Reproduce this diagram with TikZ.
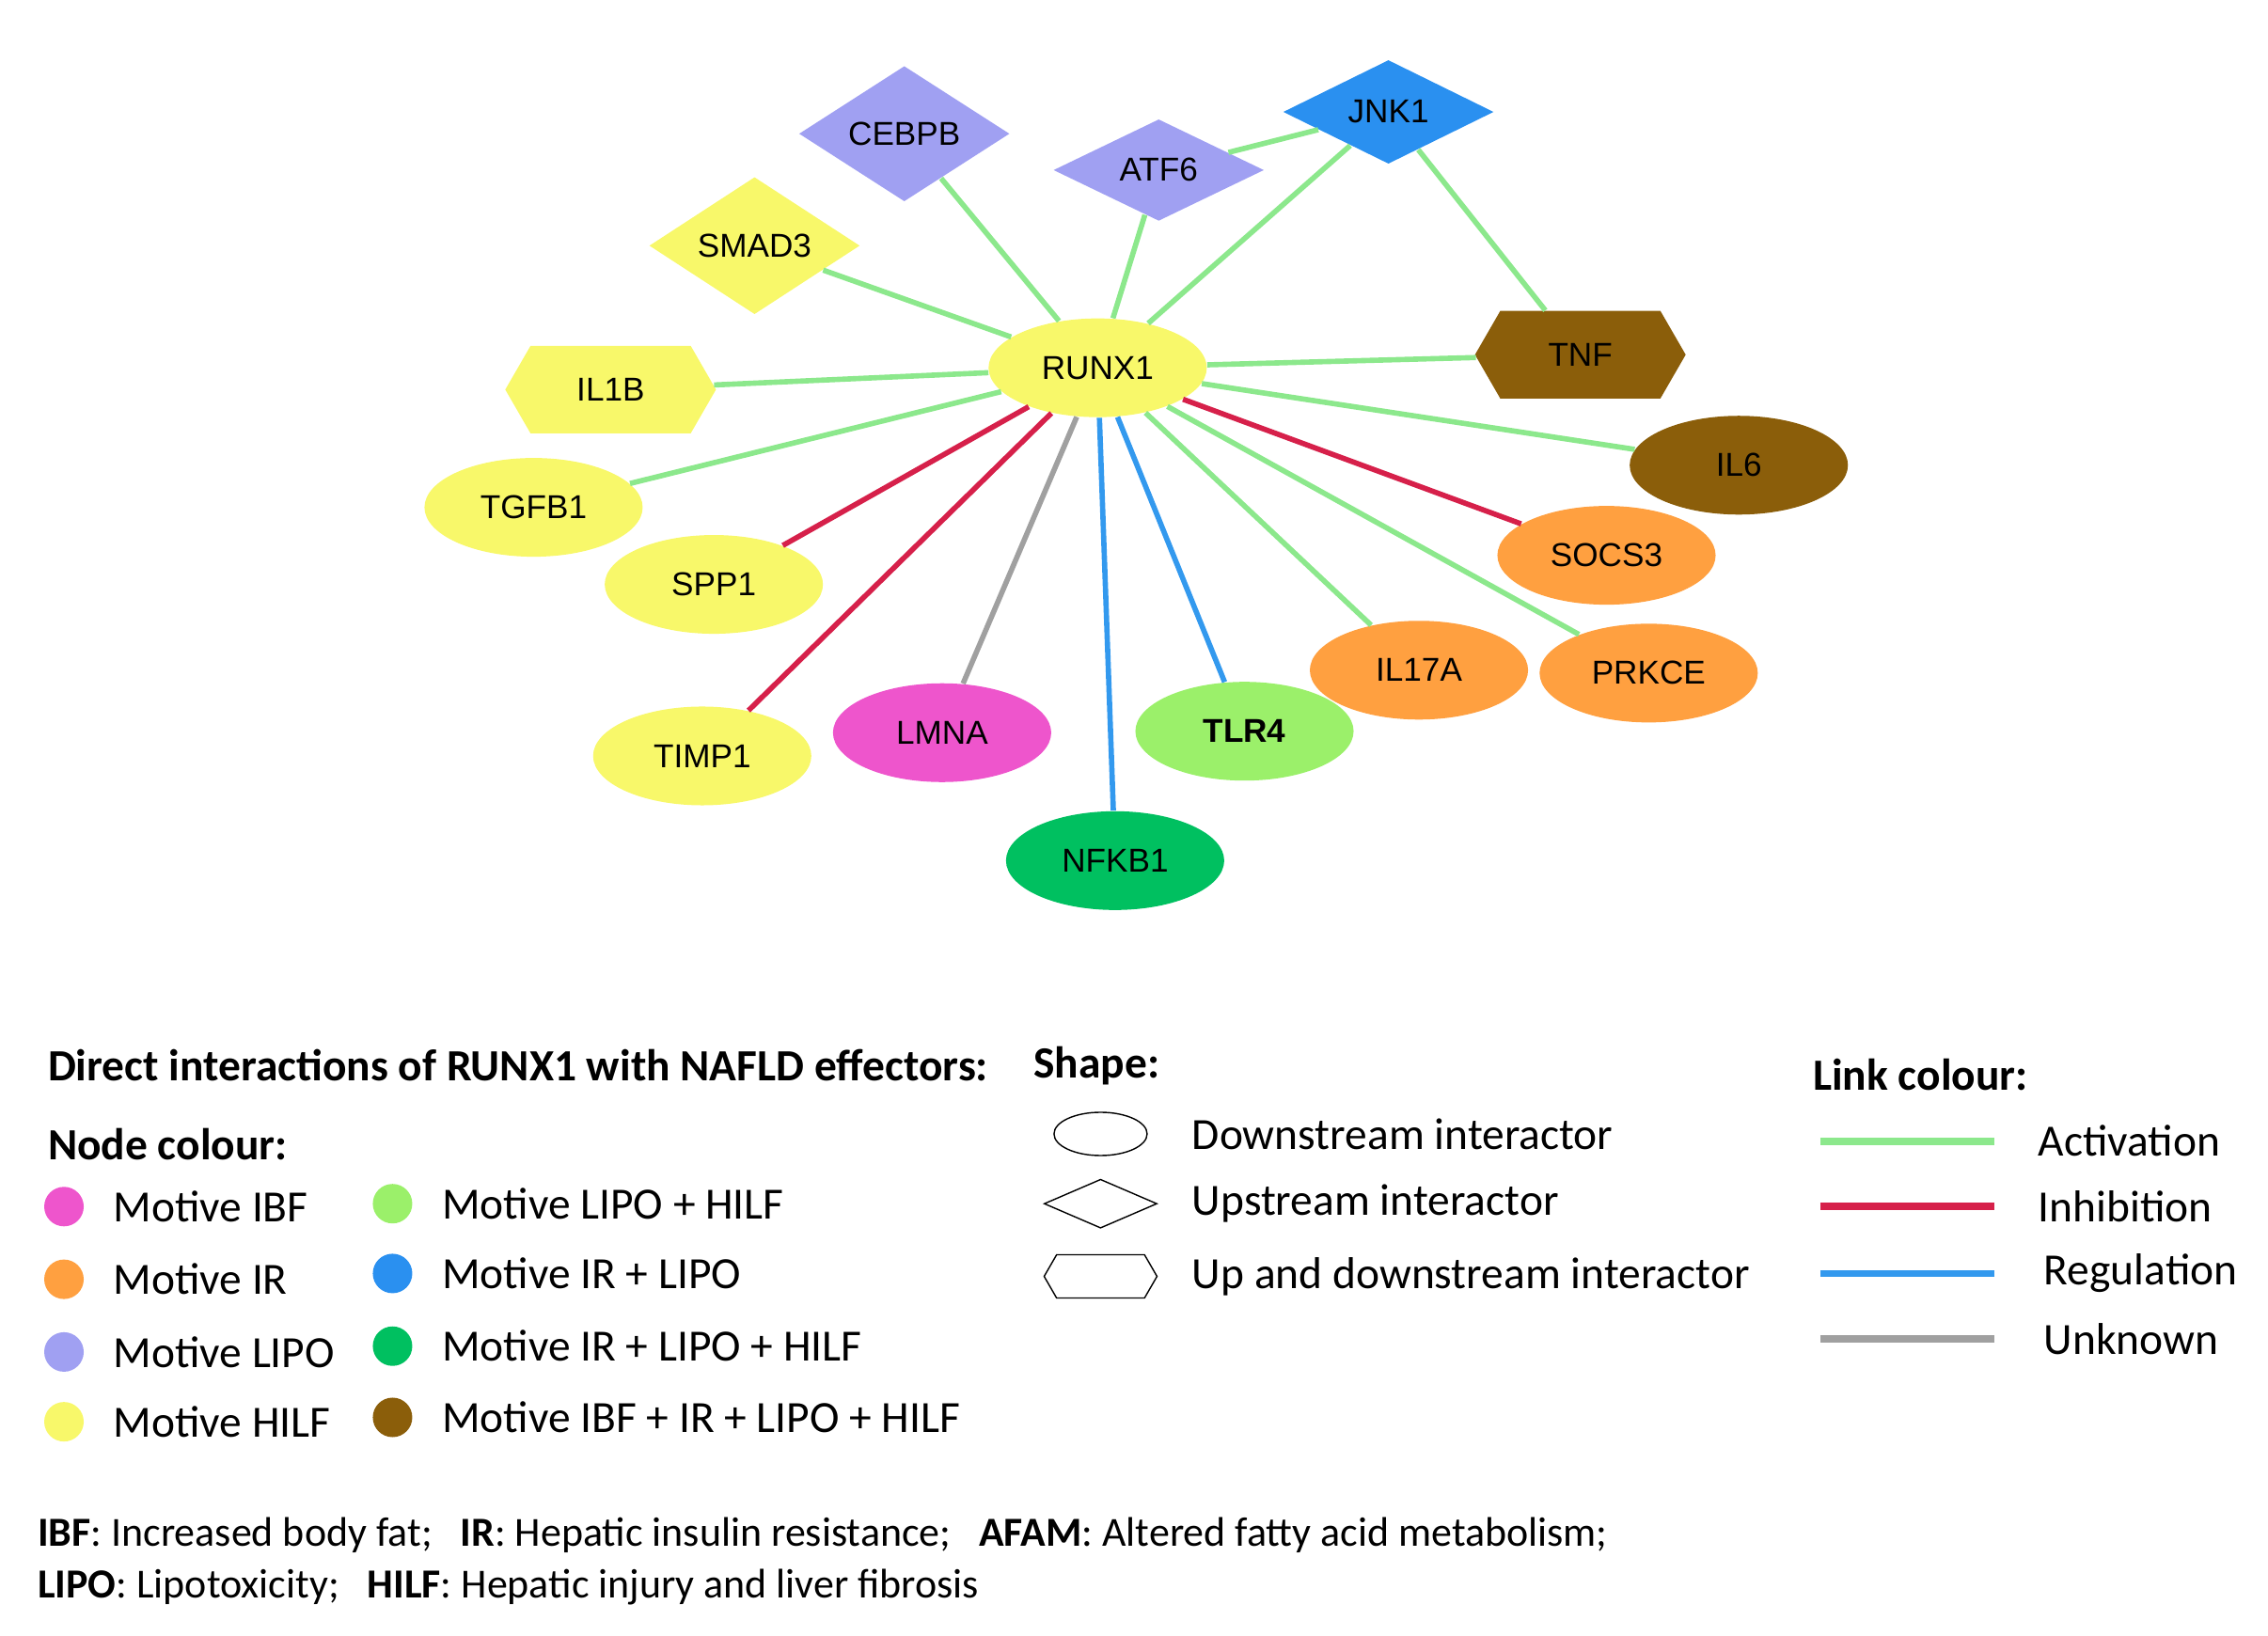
\documentclass[tikz,border=0pt]{standalone}
\usepackage{fontspec}
\setmainfont{Liberation Sans}
\newfontfamily\legf{Carlito}
\usetikzlibrary{shapes.geometric,shapes.symbols}
\definecolor{cyel}{HTML}{F8F86A}
\definecolor{clav}{HTML}{A0A0F2}
\definecolor{cblu}{HTML}{2A90F0}
\definecolor{cbrn}{HTML}{8B5E0A}
\definecolor{corg}{HTML}{FFA040}
\definecolor{cpnk}{HTML}{EE55CC}
\definecolor{clgr}{HTML}{9BF06A}
\definecolor{cdgr}{HTML}{00C060}
\definecolor{eact}{HTML}{8CE88C}
\definecolor{einh}{HTML}{D6204A}
\definecolor{ereg}{HTML}{3399EE}
\definecolor{eunk}{HTML}{A0A0A0}
\begin{document}
\begin{tikzpicture}[x=0.01546cm,y=-0.01546cm,
  lab/.style={font=\fontsize{10}{12}\selectfont},
  ell/.style={ellipse,draw=none,minimum width=2.32cm,minimum height=1.05cm,inner sep=0pt,lab},
  dia/.style={diamond,draw=none,minimum width=2.24cm,minimum height=1.05cm,inner sep=0pt,lab},
  hex/.style={signal,signal to=east and west,signal pointer angle=120,draw=none,minimum width=2.24cm,minimum height=0.93cm,inner sep=0pt,lab},
  act/.style={draw=eact,line width=1.6pt},
  inh/.style={draw=einh,line width=1.6pt},
  reg/.style={draw=ereg,line width=1.6pt},
  unk/.style={draw=eunk,line width=1.6pt},
  leg/.style={anchor=west,font=\legf\fontsize{13.5}{16}\selectfont},
  legb/.style={leg,font=\legf\bfseries\fontsize{13.5}{16}\selectfont},
  foot/.style={anchor=west,font=\legf\fontsize{12.5}{15}\selectfont},
  dot/.style={circle,minimum size=0.42cm,inner sep=0pt}]
\useasboundingbox (0,0) rectangle (1560,1125);
% nodes
\node[dia,fill=clav] (cebpb) at (622,92) {CEBPB};
\node[dia,fill=clav] (atf6) at (797,117) {ATF6};
\node[dia,fill=cblu] (jnk1) at (955,77) {JNK1};
\node[dia,fill=cyel] (smad3) at (519,169) {SMAD3};
\node[hex,fill=cyel] (il1b) at (420,268) {IL1B};
\node[hex,fill=cbrn] (tnf) at (1087,244) {TNF};
\node[ell,fill=cbrn] (il6) at (1196,320) {IL6};
\node[ell,fill=cyel] (tgfb1) at (367,349) {TGFB1};
\node[ell,fill=cyel] (spp1) at (491,402) {SPP1};
\node[ell,fill=corg] (socs3) at (1105,382) {SOCS3};
\node[ell,fill=corg] (il17a) at (976,461) {IL17A};
\node[ell,fill=corg] (prkce) at (1134,463) {PRKCE};
\node[ell,fill=cyel] (timp1) at (483,520) {TIMP1};
\node[ell,fill=cpnk] (lmna) at (648,504) {LMNA};
\node[ell,fill=clgr,font=\bfseries\fontsize{10}{12}\selectfont] (tlr4) at (856,503) {TLR4};
\node[ell,fill=cdgr] (nfkb1) at (767,592) {NFKB1};
\node[ell,fill=cyel] (runx1) at (755,253) {RUNX1};
% edges
\begin{scope}[on background layer/.style={}]
\foreach \t in {cebpb,atf6,jnk1,smad3,il1b,tnf,il6,tgfb1,il17a,prkce}
  \draw[act] (runx1) -- (\t);
\draw[act] (jnk1) -- (atf6);
\draw[act] (jnk1) -- (tnf);
\foreach \t in {spp1,timp1,socs3}
  \draw[inh] (runx1) -- (\t);
\draw[unk] (runx1) -- (lmna);
\draw[reg] (runx1) -- (nfkb1);
\draw[reg] (runx1) -- (tlr4);
\end{scope}
% legend
\node[legb] (t1) at (25,733) {Direct interactions of RUNX1 with NAFLD effectors:};
\node[legb] (t2) at (25,787) {Node colour:};
\node[dot,fill=cpnk] (d1) at (44,830) {}; \node[leg] (l1) at (70,830) {Motive IBF};
\node[dot,fill=corg] (d2) at (44,880) {}; \node[leg] (l2) at (70,880) {Motive IR};
\node[dot,fill=clav] (d3) at (44,930) {}; \node[leg] (l3) at (70,930) {Motive LIPO};
\node[dot,fill=cyel] (d4) at (44,978) {}; \node[leg] (l4) at (70,978) {Motive HILF};
\node[dot,fill=clgr] (d5) at (270,828) {}; \node[leg] (l5) at (296,828) {Motive LIPO + HILF};
\node[dot,fill=cblu] (d6) at (270,876) {}; \node[leg] (l6) at (296,876) {Motive IR + LIPO};
\node[dot,fill=cdgr] (d7) at (270,926) {}; \node[leg] (l7) at (296,926) {Motive IR + LIPO + HILF};
\node[dot,fill=cbrn] (d8) at (270,975) {}; \node[leg] (l8) at (296,975) {Motive IBF + IR + LIPO + HILF};
\node[legb] (t3) at (703,733) {Shape:};
\node[ellipse,draw,thin,minimum width=0.99cm,minimum height=0.46cm] (s1) at (757,780) {};
\node[leg] (ls1) at (812,780) {Downstream interactor};
\node[diamond,draw,thin,minimum width=1.2cm,minimum height=0.52cm,inner sep=0pt] (s2) at (757,828) {};
\node[leg] (ls2) at (812,828) {Upstream interactor};
\node[signal,signal to=east and west,signal pointer angle=120,draw,thin,minimum width=1.2cm,minimum height=0.46cm,inner sep=0pt] (s3) at (757,878) {};
\node[leg] (ls3) at (812,878) {Up and downstream interactor};
\node[legb] (t4) at (1239,739) {Link colour:};
\coordinate (a1) at (1252,785); \coordinate (b1) at (1372,785);
\coordinate (a2) at (1252,830); \coordinate (b2) at (1372,830);
\coordinate (a3) at (1252,876); \coordinate (b3) at (1372,876);
\coordinate (a4) at (1252,921); \coordinate (b4) at (1372,921);
\draw[act,line width=2.2pt] (a1) -- (b1); \node[leg] (k1) at (1394,785) {Activation};
\draw[inh,line width=2.2pt] (a2) -- (b2); \node[leg] (k2) at (1394,830) {Inhibition};
\draw[reg,line width=2.2pt] (a3) -- (b3); \node[leg] (k3) at (1398,876) {Regulation};
\draw[unk,line width=2.2pt] (a4) -- (b4); \node[leg] (k4) at (1398,921) {Unknown};
\node[foot] (f1) at (18,1056) {\textbf{IBF}: Increased body fat;\ \ \ \textbf{IR}: Hepatic insulin resistance;\ \ \ \textbf{AFAM}: Altered fatty acid metabolism;};
\node[foot] (f2) at (18,1092) {\textbf{LIPO}: Lipotoxicity;\ \ \ \textbf{HILF}: Hepatic injury and liver fibrosis};
\end{tikzpicture}
\end{document}
